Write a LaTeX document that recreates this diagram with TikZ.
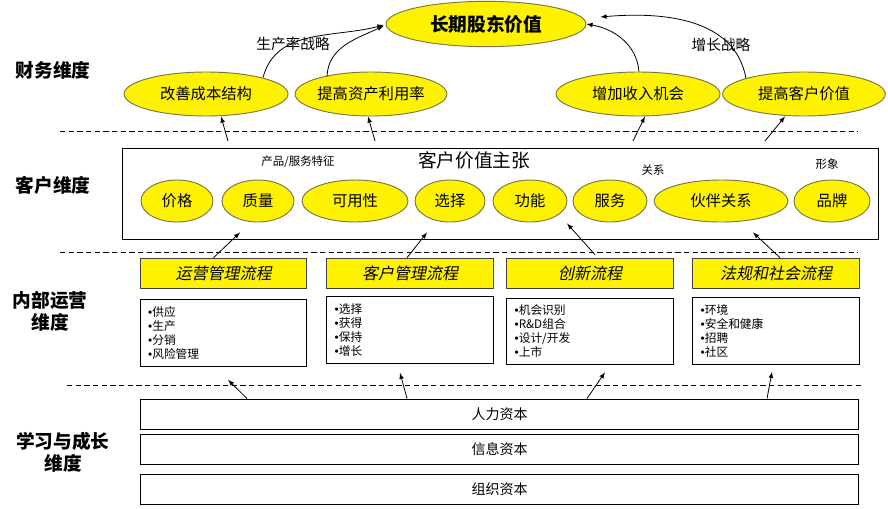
\documentclass[tikz,border=0pt]{standalone}
\usepackage{fontspec}
\setmainfont{Noto Sans CJK SC}
\newfontfamily\slcjk{Noto Sans CJK SC}[FakeSlant=0.2]
\newfontfamily\lat{Liberation Sans}
\newcommand\pkt{{\lat •}}
\usetikzlibrary{shapes.geometric,calc}
\begin{document}
\begin{tikzpicture}[x=0.75pt, y=-0.75pt,
    ziel/.style={ellipse, draw=black!60!yellow, fill=yellow, line width=0.7pt, inner sep=0pt, minimum height=33pt, font=\fontsize{11.5}{13}\selectfont},
    wert/.style={ziel, minimum height=31.5pt},
    prozess/.style={draw=black!75, fill=yellow, line width=0.7pt, minimum width=125pt, minimum height=23pt, inner sep=0pt, font=\slcjk\fontsize{12}{14}\selectfont},
    liste/.style={draw, line width=0.7pt, minimum width=125pt, minimum height=50pt, text width=113pt, inner xsep=6pt, inner ysep=3pt, align=left, font=\fontsize{8.8}{10.5}\selectfont},
    balken/.style={draw, line width=0.7pt, minimum width=539pt, minimum height=22.5pt, inner sep=0pt, font=\fontsize{10.5}{12}\selectfont},
    ebene/.style={font=\bfseries\fontsize{14}{16.5}\selectfont, align=center},
    trenn/.style={dash pattern=on 4pt off 2.5pt, line width=0.6pt},
    pfeil/.style={-{latex}, line width=0.6pt}]
    \fill[white] (0, 0) rectangle (888, 508);

    % Ebenen
    \node[ebene] (fin) at (53, 70)   {财务维度};
    \node[ebene] (kun) at (53, 185)  {客户维度};
    \node[ebene] (int) at (50, 311)  {内部运营\\维度};
    \node[ebene] (ler) at (63, 452)  {学习与成长\\维度};

    % Trennlinien
    \draw[trenn] (60, 131) -- (858, 131);
    \draw[trenn] (60, 252) -- (858, 252);
    \draw[trenn] (67, 385) -- (863, 385);

    % Finanzen
    \node[ziel, minimum width=150pt, minimum height=34pt, font=\bfseries\fontsize{14}{16}\selectfont] (top) at (486, 24) {长期股东价值};
    \node[ziel, minimum width=123pt] (kosten) at (206, 94) {改善成本结构};
    \node[ziel, minimum width=108pt] (anlage) at (371, 94) {提高资产利用率};
    \node[ziel, minimum width=123pt] (umsatz) at (638, 94) {增加收入机会};
    \node[ziel, minimum width=122pt] (kwert)  at (804, 94) {提高客户价值};

    \draw[pfeil] ($(kosten.north)+(57, 6)$) to[out=75, in=195] ($(top.west)+(-2, 1)$);
    \draw[pfeil] ($(anlage.north)+(-44, 5)$) to[out=88, in=205] ($(top.west)+(-2, 2)$);
    \draw[pfeil] ($(umsatz.north)+(1, 0)$) to[out=95, in=-10] (top.east);
    \draw[pfeil] ($(kwert.north)+(-58, 7)$) to[out=100, in=5] ($(top.east)+(14, -7)$);
    \node[font=\fontsize{11}{13}\selectfont] (prodlbl) at (293, 44) {生产率战略};
    \node[font=\fontsize{11}{13}\selectfont] (wachlbl) at (721, 45) {增长战略};

    % Kunde
    \node[draw, line width=0.7pt, minimum width=567pt, minimum height=68.25pt, inner sep=0pt] (kunde) at (500, 193.5) {};
    \node[font=\fontsize{14}{16}\selectfont] (kvp) at (474, 160) {客户价值主张};
    \node[font=\fontsize{8.6}{10}\selectfont] (prod) at (298, 162) {产品/服务特征};
    \node[font=\fontsize{8.6}{10}\selectfont] (bez)  at (653, 170) {关系};
    \node[font=\fontsize{8.6}{10}\selectfont] (img)  at (827, 164) {形象};

    \node[wert, minimum width=54pt]    (preis)   at (177, 201) {价格};
    \node[wert, minimum width=54pt]    (qual)    at (258, 201) {质量};
    \node[wert, minimum width=79.5pt]  (verf)    at (355, 201) {可用性};
    \node[wert, minimum width=52.5pt]  (auswahl) at (450, 201) {选择};
    \node[wert, minimum width=55.5pt]  (funk)    at (530, 201) {功能};
    \node[wert, minimum width=55.5pt]  (dienst)  at (610, 201) {服务};
    \node[wert, minimum width=100.5pt] (partner) at (721, 201) {伙伴关系};
    \node[wert, minimum width=57pt]    (marke)   at (832, 201) {品牌};

    \coordinate (k1) at (228, 141);
    \coordinate (k2) at (375, 141);
    \coordinate (k3) at (633, 141);
    \coordinate (k4) at (765, 141);
    \draw[pfeil] (k1) -- ($(kosten.south)+(15, 0)$);
    \draw[pfeil] (k2) -- ($(anlage.south)+(-3, 0)$);
    \draw[pfeil] (k3) -- ($(umsatz.south)+(7, 0)$);
    \draw[pfeil] (k4) -- ($(kwert.south)+(-19, 0)$);

    % Interne Prozesse
    \node[prozess] (p1) at (223.5, 273.5) {运营管理流程};
    \node[prozess] (p2) at (410, 273.5)   {客户管理流程};
    \node[prozess] (p3) at (590, 273.5)   {创新流程};
    \node[prozess] (p4) at (776, 273.5)   {法规和社会流程};

    \node[liste] (l1) at (223.5, 333) {\pkt{}供应\\\pkt{}生产\\\pkt{}分销\\\pkt{}风险管理};
    \node[liste] (l2) at (410, 330)   {\pkt{}选择\\\pkt{}获得\\\pkt{}保持\\\pkt{}增长};
    \node[liste] (l3) at (590, 331.5) {\pkt{}机会识别\\\pkt{}R\&D组合\\\pkt{}设计/开发\\\pkt{}上市};
    \node[liste] (l4) at (776, 331)   {\pkt{}环境\\\pkt{}安全和健康\\\pkt{}招聘\\\pkt{}社区};

    \draw[pfeil] ($(p1.north)+(-10, 0)$) -- ($(qual.south)+(-18, 10)$);
    \draw[pfeil] ($(p2.north)+(-3, 0)$) -- ($(auswahl.south)+(-23, 10)$);
    \draw[pfeil] ($(p3.north)+(5, -3)$) -- ($(funk.south)+(37, 1)$);
    \draw[pfeil] ($(p4.north)+(4, 0)$) -- ($(partner.south)+(32, 10)$);

    % Lernen und Wachstum
    \node[balken] (hc) at (499.5, 414) {人力资本};
    \node[balken] (ic) at (499.5, 449) {信息资本};
    \node[balken] (oc) at (499.5, 489) {组织资本};

    \draw[pfeil] ($(hc.north)+(-252.5, 0)$) -- ($(l1.south)+(4.5, 13)$);
    \draw[pfeil] ($(hc.north)+(-92.5, 0)$) -- ($(l2.south)+(-10, 9)$);
    \draw[pfeil] ($(hc.north)+(87.5, 0)$) -- ($(l3.south)+(15, 7)$);
    \draw[pfeil] ($(hc.north)+(267.5, 0)$) -- ($(l4.south)+(-4, 7)$);
\end{tikzpicture}
\end{document}
